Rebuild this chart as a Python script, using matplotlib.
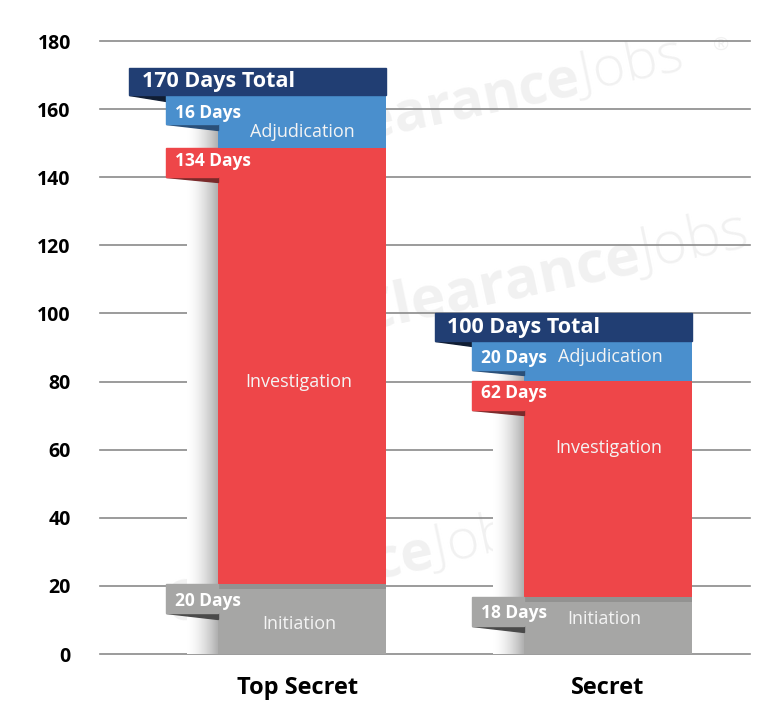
import matplotlib
matplotlib.use("Agg")
import matplotlib.pyplot as plt
import numpy as np
from matplotlib.patches import Rectangle, Polygon
from matplotlib.colors import LinearSegmentedColormap

plt.rcParams['font.family'] = ['Open Sans', 'DejaVu Sans']

# ---- data (segment heights as drawn, in days) ----
categories = ["Top Secret", "Secret"]
initiation = [20.5, 16.7]
investigation = [128.1, 63.5]
adjudication = [15.4, 11.8]
total_band = [8.0, 8.0]

init_labels = ["20 Days", "18 Days"]
inv_labels = ["134 Days", "62 Days"]
adj_labels = ["16 Days", "20 Days"]
total_labels = ["170 Days Total", "100 Days Total"]
yticks = [0, 20, 40, 60, 80, 100, 120, 140, 160, 180]

# ---- styling ----
NAVY = "#213e73"
BLUE = "#4a8fcd"
RED = "#ee4649"
GRAY = "#a6a6a5"
DARK = {"b": "#2a4f78", "r": "#7a2a2b", "g": "#4a4a4a", "n": "#101d33"}

fig = plt.figure(figsize=(7.68, 7.21), dpi=100)
ax = fig.add_axes([100/768, (721-654)/721, 650/768, (654-41)/721])
ax.set_xlim(-0.661, 1.466)
ax.set_ylim(0, 180)
for s in ax.spines.values():
    s.set_visible(False)

for t in yticks:
    ax.axhline(t, color="#8a8a8a", lw=1.2, zorder=1, clip_on=False)

ax.set_yticks(yticks)
ax.set_yticklabels([str(t) for t in yticks], fontsize=14, fontweight="bold")
ax.set_xticks([-0.015, 1])
ax.set_xticklabels(categories, fontsize=17, fontweight="bold")
ax.tick_params(axis="y", length=0, pad=21)
ax.tick_params(axis="x", length=0, pad=16)

# watermarks (faint, behind everything)
WM = "#f1f1f1"
for (wx, wy, fs) in [(0.92, 165.0, 40), (1.116, 112.7, 42), (0.442, 26.1, 40)]:
    ax.text(wx, wy, "Clearance", color=WM, fontsize=fs, fontweight="bold",
            rotation=12, rotation_mode="anchor", ha="right", va="baseline",
            zorder=0.5, clip_on=True)
    ax.text(wx, wy, "Jobs", color=WM, fontsize=fs, fontweight="light",
            rotation=12, rotation_mode="anchor", ha="left", va="baseline",
            zorder=0.5, clip_on=True)
ax.text(1.345, 177.5, "®", color=WM, fontsize=14, zorder=0.5)

W = 0.55
TAB = 0.17   # how far the label tab sticks out left of the bar
NAVYX = 0.29
TABH = 8.5

grad = np.linspace(0, 1, 60).reshape(1, -1) ** 1.6
shade = LinearSegmentedColormap.from_list("sh", ["#ffffff", "#b0b0b0"])

for i in range(2):
    x0 = i - W/2
    y1 = initiation[i]
    y2 = y1 + investigation[i]
    y3 = y2 + adjudication[i]

    # soft shadow left of the bar
    ax.imshow(grad, extent=(x0 - 0.1, x0, 0, y3), cmap=shade, aspect="auto",
              zorder=1.5, interpolation="bilinear")

    # main bars
    ax.bar(i, initiation[i], width=W, bottom=0, color=GRAY, zorder=2)
    ax.bar(i, investigation[i], width=W, bottom=y1, color=RED, zorder=2)
    ax.bar(i, adjudication[i], width=W, bottom=y2, color=BLUE, zorder=2)

    # tabs
    for (top, col, dk) in [(y1, GRAY, DARK["g"]), (y2, RED, DARK["r"]),
                           (y3, BLUE, DARK["b"])]:
        tb = top - TABH
        ax.add_patch(Rectangle((x0 - TAB, tb), TAB, TABH, color=col, zorder=3))
        ax.add_patch(Polygon([(x0 - TAB, tb), (x0, tb), (x0, tb - 1.6)],
                             closed=True, color=dk, zorder=2.9))

    # red bottom shadow over gray
    ax.add_patch(Rectangle((x0, y1 - 1.5), W, 1.5, color="#7a7a7a",
                           alpha=0.45, zorder=2.5, lw=0))

    # navy total band
    ax.add_patch(Rectangle((x0 - NAVYX, y3), W + NAVYX, total_band[i],
                           color=NAVY, zorder=3))
    ax.add_patch(Polygon([(x0 - NAVYX, y3), (x0 - TAB, y3), (x0 - TAB, y3 - 1.6)],
                         closed=True, color=DARK["n"], zorder=2.9))

    tx = x0 - TAB + 0.03
    ax.text(x0 - NAVYX + 0.04, y3 + total_band[i]/2, total_labels[i],
            color="white", fontsize=15.5, fontweight="bold", va="center",
            ha="left", zorder=4)
    ax.text(tx, y3 - 5.0, adj_labels[i], color="white", fontsize=12.5,
            fontweight="bold", va="center", ha="left", zorder=4)
    ax.text(tx, y2 - 3.7, inv_labels[i], color="white", fontsize=12.5,
            fontweight="bold", va="center", ha="left", zorder=4)
    ax.text(tx, y1 - 4.8, init_labels[i], color="white", fontsize=12.5,
            fontweight="bold", va="center", ha="left", zorder=4)

# segment names
name_kw = dict(color="#f4f4f4", fontsize=13, ha="center", va="center", zorder=4)
ax.text(0, 153.2, "Adjudication", **name_kw)
ax.text(1.01, 87.3, "Adjudication", **name_kw)
ax.text(-0.01, 80.0, "Investigation", **name_kw)
ax.text(1.005, 60.5, "Investigation", **name_kw)
ax.text(-0.01, 8.8, "Initiation", **name_kw)
ax.text(0.99, 10.2, "Initiation", **name_kw)

fig.savefig("out.png", dpi=100)
